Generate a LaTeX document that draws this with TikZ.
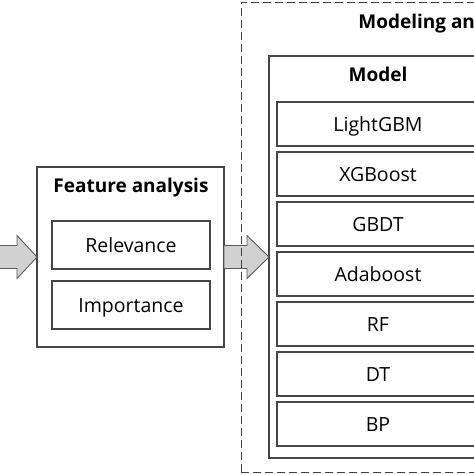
\documentclass[tikz,border=0pt]{standalone}
\usepackage{fontspec}
\setmainfont{Open Sans}
\usetikzlibrary{positioning,calc}

\begin{document}
\begin{tikzpicture}[x=1pt, y=-1pt,
    every node/.style={font=\fontsize{19.5}{22}\selectfont, inner sep=0pt, outer sep=0pt},
    outerbox/.style={draw=black!72, line width=1.2pt, fill=white},
    innerbox/.style={draw=black!72, line width=1.2pt, fill=white, text height=14pt, text depth=0pt},
    fbox/.style={innerbox, minimum width=158pt, minimum height=48pt},
    mbox/.style={innerbox, minimum width=202pt, minimum height=44pt},
    title/.style={font=\fontsize{19}{22}\selectfont\bfseries, text height=13.5pt, text depth=0pt},
    dashbox/.style={draw=black!75, line width=1pt, dash pattern=on 8pt off 4pt},
    blockarrow/.style={draw=black!65, fill=black!18, line width=0.9pt, line join=miter}]
    \clip (0,0) rectangle (474,474);

    % Feature analysis
    \node[outerbox, minimum width=187pt, minimum height=180pt] (fa) at (130.5,257) {};
    \node[title] (fatitle) at (131,186) {Feature analysis};
    \node[fbox] (rel) at (131,245) {Relevance};
    \node[fbox, below=12pt of rel] (imp) {Importance};

    % Model
    \node[outerbox, minimum width=218pt, minimum height=402pt] (model) at (378,257) {};
    \node[title] (modeltitle) at (378,74.5) {Model};
    \node[mbox] (lgbm) at (378,124) {LightGBM};
    \node[mbox, below=6pt of lgbm] (xgb) {XGBoost};
    \node[mbox, below=6pt of xgb] (gbdt) {GBDT};
    \node[mbox, below=6pt of gbdt] (ada) {Adaboost};
    \node[mbox, below=6pt of ada] (rf) {RF};
    \node[mbox, below=6pt of rf] (dt) {DT};
    \node[mbox, below=6pt of dt] (bp) {BP};

    % Flechas
    \draw[blockarrow] ($(fa.west)+(-42,-11.5)$) -- ++(22,0) -- ++(0,-10) -- (fa.west)
        -- ++(-20,21.5) -- ++(0,-10) -- ++(-22,0) -- cycle;
    \draw[blockarrow] ($(fa.east)+(0,-11.5)$) -- ++(23,0) -- ++(0,-10) -- (model.west)
        -- ++(-22,21.5) -- ++(0,-10) -- ++(-23,0) -- cycle;

    % Modeling frame
    \node[dashbox, minimum width=290pt, minimum height=470pt] (modeling) at (386,237) {};
    \node[title, anchor=east] (modelingtitle) at (475,21.5) {Modeling an};
\end{tikzpicture}
\end{document}
